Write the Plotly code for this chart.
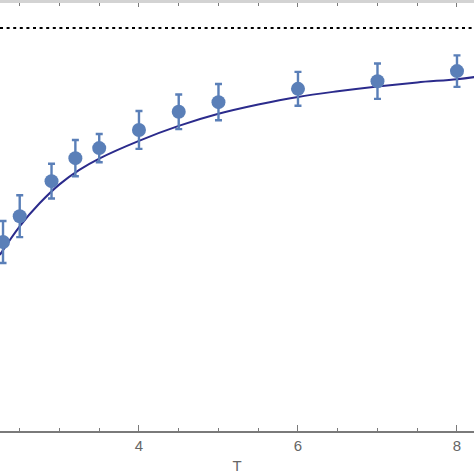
import plotly.graph_objects as go

# measured points with error bars
t_data = [2.29, 2.5, 2.9, 3.2, 3.5, 4.0, 4.5, 5.0, 6.0, 7.0, 8.0]
y_data = [0.469, 0.533, 0.620, 0.677, 0.702, 0.747, 0.792, 0.816, 0.849, 0.868, 0.893]
y_err = [0.052, 0.052, 0.043, 0.045, 0.035, 0.047, 0.043, 0.045, 0.042, 0.044, 0.039]

# fitted curve
t_fit = [2.25, 2.5, 2.75, 3.0, 3.25, 3.5, 4.0, 4.5, 5.0, 5.5, 6.0, 6.5, 7.0, 7.5, 8.0, 8.25]
y_fit = [0.437, 0.508, 0.565, 0.612, 0.648, 0.676, 0.720, 0.757, 0.787, 0.810,
         0.829, 0.843, 0.855, 0.865, 0.873, 0.879]

asymptote = 1.0

x_ticks = [4, 6, 8]
x_ticktext = ["4", "6", "8"]

AXIS_GRAY = "#7a7a7a"
LABEL_GRAY = "#666666"
POINT_BLUE = "#5a7fb8"
CURVE_BLUE = "#2b2b8c"

fig = go.Figure()

fig.add_trace(
    go.Scatter(
        x=t_fit,
        y=y_fit,
        mode="lines",
        line=dict(color=CURVE_BLUE, width=2, shape="spline"),
        hoverinfo="skip",
    )
)

fig.add_trace(
    go.Scatter(
        x=t_data,
        y=y_data,
        mode="markers",
        marker=dict(color=POINT_BLUE, size=14),
        error_y=dict(type="data", array=y_err, color=POINT_BLUE, thickness=2.4, width=3.5),
    )
)

# invisible trace so the top frame axis gets drawn
fig.add_trace(go.Scatter(x=t_data[:1], y=y_data[:1], xaxis="x2", mode="markers",
                         marker=dict(opacity=0), hoverinfo="skip"))

fig.add_hline(y=asymptote, line=dict(color="black", width=2, dash="3px,3.6px"))

fig.update_layout(
    width=474,
    height=474,
    margin=dict(l=0, r=0, t=3, b=43, autoexpand=False),
    paper_bgcolor="white",
    plot_bgcolor="white",
    showlegend=False,
    font=dict(family="Liberation Sans, Arial", size=15, color=LABEL_GRAY),
    xaxis=dict(
        range=[2.252, 8.214],
        automargin=False,
        tickvals=x_ticks,
        ticktext=x_ticktext,
        ticks="inside",
        ticklen=6,
        tickwidth=1.3,
        tickcolor=AXIS_GRAY,
        showline=True,
        linecolor=AXIS_GRAY,
        linewidth=1.5,
        showgrid=False,
        zeroline=False,
        minor=dict(ticks="inside", ticklen=3.5, tickwidth=1.2, tickcolor=AXIS_GRAY, dtick=0.5, tick0=0),
        title=dict(text="T", standoff=9, font=dict(size=15, color=LABEL_GRAY)),
        tickfont=dict(size=15, color=LABEL_GRAY),
    ),
    xaxis2=dict(
        range=[2.252, 8.214],
        automargin=False,
        overlaying="x",
        side="top",
        anchor="y",
        tickvals=x_ticks,
        showticklabels=False,
        ticks="inside",
        ticklen=4,
        tickwidth=1.3,
        tickcolor=AXIS_GRAY,
        showline=True,
        linecolor="#d3d3d3",
        linewidth=3,
        showgrid=False,
        zeroline=False,
        minor=dict(ticks="inside", ticklen=2.5, tickwidth=1.2, tickcolor=AXIS_GRAY, dtick=0.5, tick0=0),
    ),
    yaxis=dict(
        range=[0, 1.062],
        automargin=False,
        visible=False,
        showgrid=False,
        zeroline=False,
    ),
)

fig.write_html(
    "out.html",
    config={"displayModeBar": False},
    post_script="document.body.style.margin='0';",
)
